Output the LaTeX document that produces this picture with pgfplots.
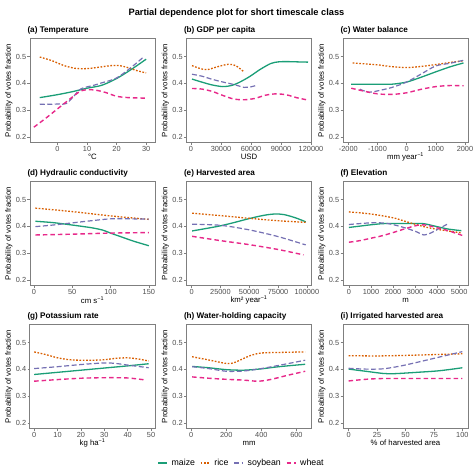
\documentclass[border=0pt]{standalone}
\usepackage{fontspec}
\setmainfont{Liberation Sans}
\usepackage{pgfplots}
\pgfplotsset{compat=1.18}
\definecolor{cmaize}{HTML}{1B9E77}
\definecolor{crice}{HTML}{D95F02}
\definecolor{csoy}{HTML}{7570B3}
\definecolor{cwheat}{HTML}{E7298A}
\definecolor{framegray}{HTML}{7F7F7F}
\definecolor{tickgray}{HTML}{4D4D4D}
\pgfplotsset{
  panel/.style={
    scale only axis, width=125bp, height=104bp,
    ymin=0.18, ymax=0.567,
    ytick={0.2,0.3,0.4,0.5}, yticklabels={0.2,0.3,0.4,0.5},
    scaled x ticks=false, scaled y ticks=false,
    axis line style={draw=framegray, line width=1bp},
    tick style={draw=framegray, line width=0.6bp},
    tick align=outside, major tick length=2.5bp, tick pos=left,
    /pgf/number format/assume math mode=true,
    ticklabel style={font=\fontsize{7.4}{8}\selectfont, text=tickgray, inner sep=1.2bp},
    ylabel={Probability of votes fraction},
    ylabel style={font=\fontsize{7.8}{9}\selectfont, at={(axis description cs:-0.17,0.5)}, anchor=center, fill=white, inner sep=0.5bp},
    xlabel style={font=\fontsize{7.8}{9}\selectfont, at={(axis description cs:0.5,-0.14)}, anchor=center},
    every axis title/.style={font=\bfseries\fontsize{8.2}{9}\selectfont, at={(axis description cs:0,1)}, anchor=base west, xshift=-6bp, yshift=5.5bp},
    every axis plot/.append style={no markers, smooth, tension=0.5},
  },
  maize/.style={color=cmaize, solid, line width=1.3bp},
  rice/.style={color=crice, dash pattern=on 1.7bp off 1.6bp, line width=1.3bp},
  soy/.style={color=csoy, dash pattern=on 5bp off 2.5bp, line width=1.2bp},
  wheat/.style={color=cwheat, dash pattern=on 4.5bp off 3bp, line width=1.4bp},
}
\begin{document}
\begin{tikzpicture}
\node[font=\bfseries\fontsize{9.3}{11}\selectfont, anchor=base] at (236.5bp,458.5bp) {Partial dependence plot for short timescale class};

% (a)
\begin{axis}[panel, at={(30bp,435.5bp)}, anchor=north west,
  xmin=-9.3, xmax=33, xtick={0,10,20,30}, xticklabels={0,10,20,30},
  title={(a) Temperature}, xlabel={°C}]
\addplot[maize] coordinates {(-6,0.347)(0,0.358)(5,0.369)(10,0.382)(15,0.393)(20,0.418)(25,0.452)(30,0.49)};
\addplot[rice] coordinates {(-6,0.498)(-2,0.485)(2,0.467)(6,0.456)(10,0.455)(14,0.46)(18,0.466)(21,0.466)(24,0.458)(27,0.447)(30,0.439)};
\addplot[soy] coordinates {(-6,0.322)(0,0.323)(3,0.325)(5.5,0.352)(8,0.38)(12,0.392)(15,0.402)(20,0.42)(25,0.46)(29,0.497)};
\addplot[wheat] coordinates {(-8,0.237)(-4,0.27)(0,0.305)(4,0.34)(8,0.372)(12,0.376)(16,0.367)(20,0.352)(24,0.347)(30,0.345)};
\end{axis}

% (b)
\begin{axis}[panel, at={(186.5bp,435.5bp)}, anchor=north west,
  xmin=-4500, xmax=120500, xtick={0,30000,60000,90000,120000}, xticklabels={0,30000,60000,90000,120000},
  title={(b) GDP per capita}, xlabel={USD}]
\addplot[maize] coordinates {(1000,0.416)(10600,0.405)(21300,0.394)(31900,0.388)(40400,0.392)(47900,0.403)(58500,0.425)(69200,0.452)(79800,0.474)(87300,0.48)(95800,0.481)(106400,0.48)(117000,0.479)};
\addplot[rice] coordinates {(1000,0.466)(8500,0.456)(16000,0.451)(26600,0.462)(37300,0.471)(44700,0.466)(53200,0.442)};
\addplot[soy] coordinates {(1000,0.434)(10600,0.427)(21300,0.415)(31900,0.405)(42600,0.396)(53200,0.385)(58500,0.386)(66000,0.393)};
\addplot[wheat] coordinates {(1000,0.381)(10600,0.379)(21300,0.37)(31900,0.355)(42600,0.342)(53200,0.339)(63900,0.344)(74500,0.356)(85200,0.361)(95800,0.357)(106400,0.346)(117000,0.338)};
\end{axis}

% (c)
\begin{axis}[panel, at={(343bp,435.5bp)}, anchor=north west,
  xmin=-2182, xmax=2103, xtick={-2000,-1000,0,1000,2000}, xticklabels={-2000,-1000,0,1000,2000},
  title={(c) Water balance}, xlabel={mm year\textsuperscript{−1}}]
\addplot[maize] coordinates {(-1900,0.397)(-1000,0.397)(-500,0.397)(0,0.405)(500,0.423)(1000,0.443)(1500,0.462)(1950,0.476)};
\addplot[rice] coordinates {(-1850,0.476)(-1000,0.469)(-500,0.462)(0,0.459)(500,0.463)(1000,0.47)(1500,0.478)(1950,0.484)};
\addplot[soy] coordinates {(-1600,0.378)(-1300,0.367)(-1000,0.372)(-500,0.385)(0,0.405)(500,0.435)(1000,0.465)(1500,0.475)(1950,0.486)};
\addplot[wheat] coordinates {(-1900,0.382)(-1500,0.372)(-1000,0.361)(-500,0.359)(0,0.365)(500,0.378)(1000,0.388)(1500,0.392)(1950,0.391)};
\end{axis}

% (d)
\begin{axis}[panel, at={(30bp,292.5bp)}, anchor=north west,
  xmin=-5, xmax=158, xtick={0,50,100,150}, xticklabels={0,50,100,150},
  title={(d) Hydraulic conductivity}, xlabel={cm s\textsuperscript{−1}}]
\addplot[maize] coordinates {(2,0.419)(25,0.414)(50,0.405)(75,0.395)(90,0.386)(100,0.375)(115,0.36)(130,0.345)(150,0.328)};
\addplot[rice] coordinates {(2,0.468)(50,0.455)(100,0.439)(150,0.426)};
\addplot[soy] coordinates {(2,0.399)(25,0.405)(50,0.413)(75,0.421)(100,0.428)(125,0.428)(150,0.427)};
\addplot[wheat] coordinates {(2,0.368)(50,0.371)(100,0.375)(150,0.377)};
\end{axis}

% (e)
\begin{axis}[panel, at={(186.5bp,292.5bp)}, anchor=north west,
  xmin=-4400, xmax=104000, xtick={0,25000,50000,75000,100000}, xticklabels={0,25000,50000,75000,100000},
  title={(e) Harvested area}, xlabel={km² year\textsuperscript{−1}}]
\addplot[maize] coordinates {(500,0.383)(12500,0.392)(25000,0.402)(37500,0.415)(50000,0.429)(62500,0.441)(72000,0.446)(80000,0.444)(90000,0.432)(99000,0.417)};
\addplot[rice] coordinates {(500,0.449)(25000,0.440)(50000,0.430)(75000,0.421)(99000,0.415)};
\addplot[soy] coordinates {(500,0.408)(25000,0.404)(50000,0.387)(75000,0.362)(99000,0.331)};
\addplot[wheat] coordinates {(500,0.363)(25000,0.347)(50000,0.332)(75000,0.314)(97000,0.294)};
\end{axis}

% (f)
\begin{axis}[panel, at={(343bp,292.5bp)}, anchor=north west,
  xmin=-270, xmax=5400, xtick={0,1000,2000,3000,4000,5000}, xticklabels={0,1000,2000,3000,4000,5000},
  title={(f) Elevation}, xlabel={m}]
\addplot[maize] coordinates {(0,0.396)(500,0.401)(1000,0.406)(1500,0.41)(2000,0.411)(2500,0.411)(3000,0.411)(3400,0.41)(4000,0.399)(4500,0.39)(5100,0.384)};
\addplot[rice] coordinates {(0,0.454)(1000,0.446)(2000,0.432)(2500,0.42)(3000,0.408)(3500,0.397)(4000,0.389)(4500,0.383)(5100,0.376)};
\addplot[soy] coordinates {(0,0.407)(600,0.411)(1200,0.414)(1800,0.41)(2400,0.398)(3000,0.382)(3400,0.368)(3700,0.375)(4000,0.388)(4500,0.41)};
\addplot[wheat] coordinates {(0,0.341)(500,0.347)(1000,0.356)(1500,0.365)(2000,0.377)(2500,0.39)(3000,0.402)(3300,0.406)(3600,0.403)(4000,0.395)(4500,0.384)(5150,0.366)};
\end{axis}

% (g)
\begin{axis}[panel, at={(30bp,149.5bp)}, anchor=north west,
  xmin=-1.8, xmax=51.7, xtick={0,10,20,30,40,50}, xticklabels={0,10,20,30,40,50},
  title={(g) Potassium rate}, xlabel={kg ha\textsuperscript{−1}}]
\addplot[maize] coordinates {(0,0.381)(10,0.389)(20,0.397)(30,0.405)(40,0.413)(49,0.421)};
\addplot[rice] coordinates {(0,0.465)(5,0.455)(10,0.443)(15,0.436)(20,0.434)(25,0.434)(30,0.436)(35,0.441)(40,0.443)(45,0.438)(49,0.431)};
\addplot[soy] coordinates {(0,0.403)(10,0.41)(20,0.418)(30,0.424)(35,0.422)(40,0.416)(49,0.406)};
\addplot[wheat] coordinates {(0,0.356)(10,0.362)(20,0.367)(30,0.369)(40,0.368)(48,0.36)};
\end{axis}

% (h)
\begin{axis}[panel, at={(186.5bp,149.5bp)}, anchor=north west,
  xmin=-27, xmax=686, xtick={0,200,400,600}, xticklabels={0,200,400,600},
  title={(h) Water-holding capacity}, xlabel={mm},
  legend columns=4,
  legend style={at={(axis description cs:0.436,-0.332)}, anchor=center, draw=none, fill=none,
    font=\fontsize{8.8}{9}\selectfont, inner sep=0pt,
    /tikz/every odd column/.append style={column sep=3bp},
    /tikz/every even column/.append style={column sep=4bp},
    nodes={inner sep=1bp}},
  legend cell align=left,
  legend image code/.code={\draw[#1, sharp plot] (0bp,0bp) -- (9bp,0bp);}]
\addplot[maize] coordinates {(5,0.411)(100,0.406)(200,0.399)(300,0.397)(400,0.402)(500,0.41)(650,0.419)};
\addplot[rice] coordinates {(5,0.447)(100,0.435)(200,0.422)(240,0.424)(290,0.438)(340,0.452)(400,0.461)(500,0.463)(650,0.465)};
\addplot[soy] coordinates {(5,0.41)(100,0.403)(200,0.393)(300,0.394)(400,0.403)(500,0.415)(650,0.434)};
\addplot[wheat] coordinates {(5,0.372)(100,0.367)(200,0.363)(300,0.36)(380,0.356)(450,0.362)(550,0.378)(650,0.393)};
\legend{maize,rice,soybean,wheat}
\end{axis}

% (i)
\begin{axis}[panel, at={(343bp,149.5bp)}, anchor=north west,
  xmin=-5, xmax=105, xtick={0,25,50,75,100}, xticklabels={0,25,50,75,100},
  title={(i) Irrigated harvested area}, xlabel={\% of harvested area}]
\addplot[maize] coordinates {(0,0.401)(15,0.393)(30,0.385)(40,0.384)(60,0.389)(80,0.395)(100,0.406)};
\addplot[rice] coordinates {(0,0.451)(25,0.45)(50,0.452)(75,0.455)(100,0.458)};
\addplot[soy] coordinates {(0,0.404)(15,0.401)(30,0.402)(45,0.412)(60,0.426)(75,0.441)(90,0.456)(100,0.466)};
\addplot[wheat] coordinates {(0,0.357)(15,0.363)(30,0.366)(60,0.366)(100,0.366)};
\end{axis}

\pgfresetboundingbox
\path[use as bounding box] (0bp,0bp) rectangle (474bp,474bp);
\end{tikzpicture}
\end{document}
